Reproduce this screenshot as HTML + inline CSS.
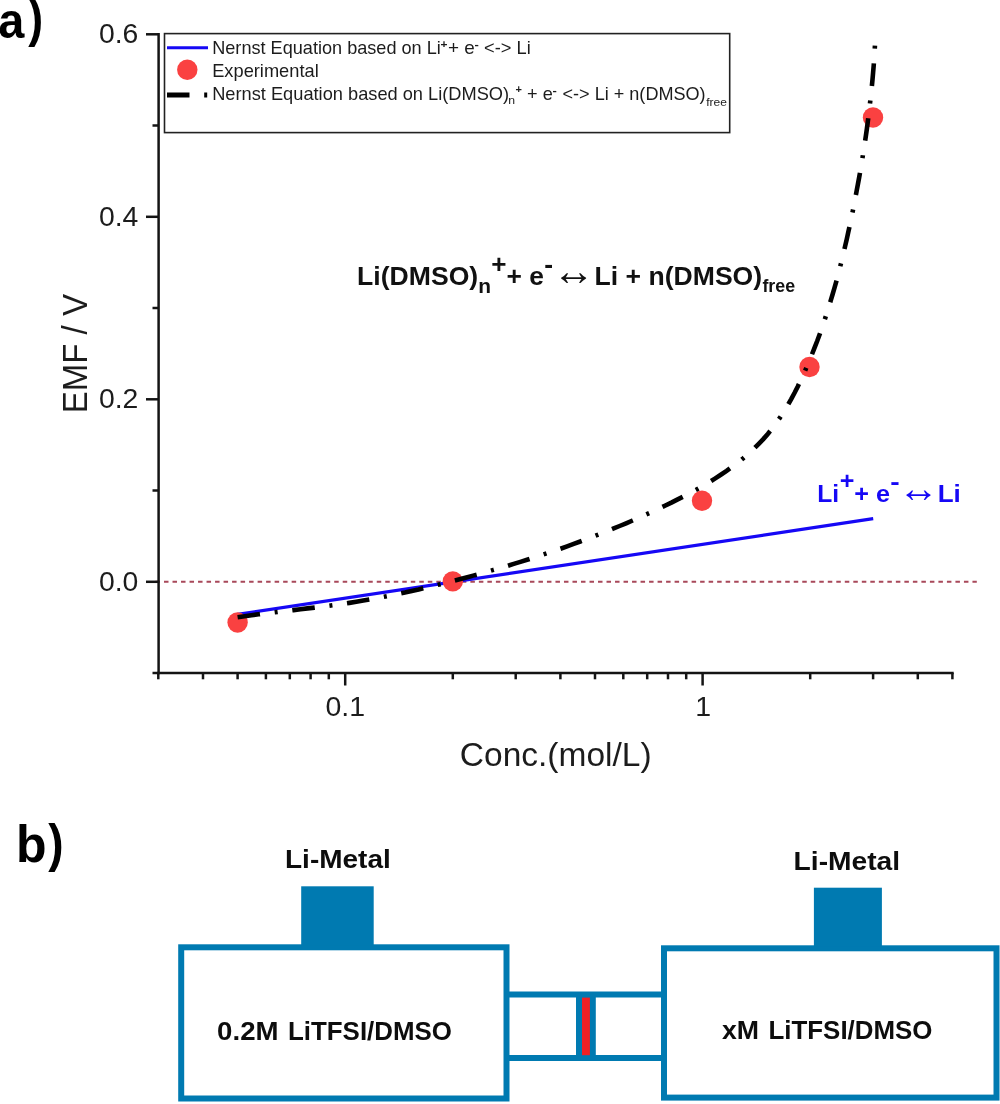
<!DOCTYPE html>
<html lang="en"><head><meta charset="utf-8"><title>EMF vs concentration</title>
<style>
html,body{margin:0;padding:0;background:#fff;}
body{width:1000px;height:1104px;overflow:hidden;position:relative;font-family:"Liberation Sans",sans-serif;}
svg{position:absolute;left:0;top:0;display:block;}
text{font-family:"Liberation Sans",sans-serif;}
.b{font-weight:bold;}
</style></head><body>
<svg width="1000" height="1104" viewBox="0 0 1000 1104">
<rect x="0" y="0" width="1000" height="1104" fill="#ffffff"/>
<line x1="155.49" y1="581.8" x2="976.8" y2="581.8" stroke="#a8485a" stroke-width="2" stroke-dasharray="4.5 4.01"/>
<g stroke="#141414" stroke-width="2.5" fill="none" stroke-linecap="butt">
<line x1="158.6" y1="33.05" x2="158.6" y2="674.25"/>
<line x1="157.35" y1="673.0" x2="953.7" y2="673.0"/>
<line x1="146" y1="34.3" x2="158.6" y2="34.3"/>
<line x1="152.5" y1="125.5" x2="158.6" y2="125.5"/>
<line x1="146" y1="216.8" x2="158.6" y2="216.8"/>
<line x1="152.5" y1="308.0" x2="158.6" y2="308.0"/>
<line x1="146" y1="399.3" x2="158.6" y2="399.3"/>
<line x1="152.5" y1="490.5" x2="158.6" y2="490.5"/>
<line x1="146" y1="581.8" x2="158.6" y2="581.8"/>
<line x1="152.5" y1="673.0" x2="158.6" y2="673.0"/>
<line x1="158.3" y1="673.0" x2="158.3" y2="679.3"/>
<line x1="203.0" y1="673.0" x2="203.0" y2="679.3"/>
<line x1="237.6" y1="673.0" x2="237.6" y2="679.3"/>
<line x1="265.9" y1="673.0" x2="265.9" y2="679.3"/>
<line x1="289.8" y1="673.0" x2="289.8" y2="679.3"/>
<line x1="310.6" y1="673.0" x2="310.6" y2="679.3"/>
<line x1="328.8" y1="673.0" x2="328.8" y2="679.3"/>
<line x1="345.2" y1="673.0" x2="345.2" y2="685.5"/>
<line x1="452.8" y1="673.0" x2="452.8" y2="679.3"/>
<line x1="515.7" y1="673.0" x2="515.7" y2="679.3"/>
<line x1="560.4" y1="673.0" x2="560.4" y2="679.3"/>
<line x1="595.0" y1="673.0" x2="595.0" y2="679.3"/>
<line x1="623.3" y1="673.0" x2="623.3" y2="679.3"/>
<line x1="647.2" y1="673.0" x2="647.2" y2="679.3"/>
<line x1="668.0" y1="673.0" x2="668.0" y2="679.3"/>
<line x1="686.2" y1="673.0" x2="686.2" y2="679.3"/>
<line x1="702.6" y1="673.0" x2="702.6" y2="685.5"/>
<line x1="810.2" y1="673.0" x2="810.2" y2="679.3"/>
<line x1="873.1" y1="673.0" x2="873.1" y2="679.3"/>
<line x1="917.8" y1="673.0" x2="917.8" y2="679.3"/>
<line x1="952.4" y1="673.0" x2="952.4" y2="679.3"/>
</g>
<text x="98.89" y="43.1" font-size="28.5" fill="#1c1c1c" textLength="39.42" lengthAdjust="spacingAndGlyphs">0.6</text>
<text x="98.89" y="225.6" font-size="28.5" fill="#1c1c1c" textLength="39.42" lengthAdjust="spacingAndGlyphs">0.4</text>
<text x="98.89" y="408.1" font-size="28.5" fill="#1c1c1c" textLength="39.42" lengthAdjust="spacingAndGlyphs">0.2</text>
<text x="98.89" y="590.6" font-size="28.5" fill="#1c1c1c" textLength="39.42" lengthAdjust="spacingAndGlyphs">0.0</text>
<text x="325.4" y="716.2" font-size="28.5" fill="#1c1c1c">0.1</text>
<text x="695.3" y="716.2" font-size="28.5" fill="#1c1c1c">1</text>
<text x="459.80" y="766.20" font-size="33.5" fill="#1c1c1c" textLength="191.78" lengthAdjust="spacingAndGlyphs">Conc.(mol/L)</text>
<text x="-2.71" y="0.00" font-size="34.5" fill="#1c1c1c" textLength="119.25" lengthAdjust="spacingAndGlyphs" transform="translate(86.9,410.6) rotate(-90)">EMF / V</text>
<line x1="237.6" y1="614.4" x2="873.2" y2="518.6" stroke="#1608f5" stroke-width="3.3"/>
<circle cx="237.6" cy="622.5" r="10.2" fill="#fa4141"/>
<circle cx="452.8" cy="581.4" r="10.2" fill="#fa4141"/>
<circle cx="702" cy="500.7" r="10.2" fill="#fa4141"/>
<circle cx="809.5" cy="367" r="10.2" fill="#fa4141"/>
<circle cx="873" cy="117.5" r="10.2" fill="#fa4141"/>
<path d="M237.6,617.2 L244.6,616.2 L251.5,615.2 L258.5,614.3 L265.5,613.4 L272.5,612.6 L279.5,611.7 L286.5,610.9 L293.5,610.1 L300.5,609.3 L307.5,608.4 L314.5,607.6 L321.5,606.7 L328.4,605.8 L335.4,604.9 L342.4,603.9 L349.4,602.9 L356.3,601.8 L363.3,600.6 L370.2,599.4 L377.2,598.2 L384.1,596.8 L391.0,595.5 L397.9,594.0 L404.8,592.6 L411.7,591.0 L418.6,589.5 L425.5,587.8 L432.3,586.2 L439.2,584.5 L446.0,582.8 L452.8,581.0 L459.6,579.3 L466.4,577.5 L473.2,575.6 L480.0,573.8 L486.8,571.9 L493.5,569.9 L500.3,568.0 L507.0,566.0 L513.7,563.9 L520.4,561.9 L527.1,559.8 L533.8,557.6 L540.5,555.4 L547.2,553.2 L553.8,551.0 L560.5,548.7 L567.1,546.3 L573.7,543.9 L580.3,541.5 L586.9,539.0 L593.5,536.5 L600.0,534.0 L606.6,531.4 L613.1,528.7 L619.6,526.0 L626.1,523.3 L632.6,520.5 L639.1,517.6 L645.6,514.7 L652.1,511.8 L658.5,508.8 L664.9,505.7 L671.4,502.6 L677.7,499.4 L684.1,496.2 L690.4,492.9 L696.6,489.5 L702.8,486.0 L708.9,482.4 L714.9,478.6 L720.8,474.8 L726.6,470.9 L732.3,466.8 L737.9,462.6 L743.3,458.2 L748.5,453.7 L753.6,449.0 L758.5,444.1 L763.3,439.1 L767.8,433.9 L772.2,428.5 L776.3,422.9 L780.3,417.1 L784.1,411.2 L787.7,405.2 L791.2,399.1 L794.6,392.8 L797.8,386.5 L800.8,380.1 L803.8,373.6 L806.7,367.1 L809.5,360.6 L812.1,354.0 L814.7,347.4 L817.3,340.8 L819.7,334.2 L822.1,327.6 L824.3,320.9 L826.5,314.2 L828.7,307.5 L830.7,300.7 L832.7,294.0 L834.7,287.2 L836.6,280.4 L838.4,273.6 L840.1,266.8 L841.9,260.0 L843.5,253.1 L845.1,246.3 L846.7,239.4 L848.2,232.6 L849.7,225.7 L851.2,218.8 L852.6,211.9 L854.0,205.0 L855.3,198.1 L856.6,191.1 L857.9,184.2 L859.2,177.3 L860.4,170.4 L861.6,163.4 L862.7,156.5 L863.8,149.5 L864.9,142.6 L865.9,135.6 L866.9,128.6 L867.8,121.7 L868.7,114.7 L869.5,107.7 L870.3,100.7 L871.1,93.7 L871.8,86.7 L872.5,79.6 L873.1,72.6 L873.7,65.6 L874.2,58.6 L874.6,51.5 L875.0,44.5" fill="none" stroke="#000" stroke-width="4.6" stroke-dasharray="22.6 14.8 3 14.75"/>
<rect x="164.5" y="33.6" width="565.2" height="99" fill="#fff" stroke="#222" stroke-width="1.6"/>
<line x1="167" y1="47.7" x2="208" y2="47.7" stroke="#1608f5" stroke-width="3"/>
<circle cx="187.3" cy="69.8" r="10.2" fill="#fa4141"/>
<line x1="167" y1="95" x2="208" y2="95" stroke="#000" stroke-width="4.8" stroke-dasharray="22.5 14.7 3 14.7"/>
<text><tspan x="212.21" y="53.90" font-size="17.8" fill="#1c1c1c" textLength="228.61" lengthAdjust="spacingAndGlyphs">Nernst Equation based on Li</tspan><tspan x="440.50" y="48.22" font-size="11.8" font-weight="bold" fill="#1c1c1c" textLength="6.99" lengthAdjust="spacingAndGlyphs">+</tspan><tspan x="448.08" y="53.90" font-size="17.8" fill="#1c1c1c" textLength="26.76" lengthAdjust="spacingAndGlyphs">+ e</tspan><tspan x="474.49" y="47.96" font-size="11.8" font-weight="bold" fill="#1c1c1c" textLength="4.33" lengthAdjust="spacingAndGlyphs">-</tspan><tspan x="479.02" y="53.90" font-size="17.8" fill="#1c1c1c" textLength="51.81" lengthAdjust="spacingAndGlyphs"> &lt;-&gt; Li</tspan></text>
<text x="212.20" y="76.90" font-size="17.8" fill="#1c1c1c" textLength="106.52" lengthAdjust="spacingAndGlyphs">Experimental</text>
<text><tspan x="212.20" y="100.20" font-size="17.8" fill="#1c1c1c" textLength="296.93" lengthAdjust="spacingAndGlyphs">Nernst Equation based on Li(DMSO)</tspan><tspan x="508.39" y="104.40" font-size="11.8" fill="#1c1c1c" textLength="6.81" lengthAdjust="spacingAndGlyphs">n</tspan><tspan x="515.54" y="93.42" font-size="11.8" font-weight="bold" fill="#1c1c1c" textLength="6.41" lengthAdjust="spacingAndGlyphs">+</tspan><tspan x="522.08" y="100.20" font-size="17.8" fill="#1c1c1c" textLength="30.72" lengthAdjust="spacingAndGlyphs"> + e</tspan><tspan x="552.49" y="93.76" font-size="11.8" font-weight="bold" fill="#1c1c1c" textLength="4.33" lengthAdjust="spacingAndGlyphs">-</tspan><tspan x="557.49" y="100.20" font-size="17.8" fill="#1c1c1c" textLength="148.13" lengthAdjust="spacingAndGlyphs"> &lt;-&gt; Li + n(DMSO)</tspan><tspan x="706.23" y="105.50" font-size="11.8" fill="#1c1c1c" textLength="20.70" lengthAdjust="spacingAndGlyphs">free</tspan></text>
<text><tspan x="357.12" y="285.00" font-size="26" font-weight="bold" fill="#111" textLength="121.10" lengthAdjust="spacingAndGlyphs">Li(DMSO)</tspan><tspan x="478.32" y="293.00" font-size="20.8" font-weight="bold" fill="#111" textLength="12.78" lengthAdjust="spacingAndGlyphs">n</tspan><tspan x="491.20" y="272.54" font-size="26" font-weight="bold" fill="#111" textLength="15.26" lengthAdjust="spacingAndGlyphs">+</tspan><tspan x="506.59" y="285.00" font-size="26" font-weight="bold" fill="#111" textLength="37.41" lengthAdjust="spacingAndGlyphs">+ e</tspan><tspan x="544.27" y="272.94" font-size="26" font-weight="bold" fill="#111" textLength="8.79" lengthAdjust="spacingAndGlyphs">-</tspan><tspan x="540.64" y="285.47" font-size="42" fill="#111" textLength="65.72" lengthAdjust="spacingAndGlyphs"> ↔ </tspan><tspan x="594.62" y="285.00" font-size="26" font-weight="bold" fill="#111" textLength="167.50" lengthAdjust="spacingAndGlyphs">Li + n(DMSO)</tspan><tspan x="762.40" y="291.80" font-size="17.7" font-weight="bold" fill="#111" textLength="32.71" lengthAdjust="spacingAndGlyphs">free</tspan></text>
<text><tspan x="817.25" y="502.00" font-size="24.5" font-weight="bold" fill="#1608f5" textLength="21.89" lengthAdjust="spacingAndGlyphs">Li</tspan><tspan x="839.74" y="489.35" font-size="24.5" font-weight="bold" fill="#1608f5" textLength="14.67" lengthAdjust="spacingAndGlyphs">+</tspan><tspan x="854.34" y="502.00" font-size="24.5" font-weight="bold" fill="#1608f5" textLength="35.72" lengthAdjust="spacingAndGlyphs">+ e</tspan><tspan x="890.39" y="490.35" font-size="24.5" font-weight="bold" fill="#1608f5" textLength="9.44" lengthAdjust="spacingAndGlyphs">-</tspan><tspan x="886.79" y="502.01" font-size="41" fill="#1608f5" textLength="63.61" lengthAdjust="spacingAndGlyphs"> ↔ </tspan><tspan x="937.76" y="502.00" font-size="24.5" font-weight="bold" fill="#1608f5" textLength="23.08" lengthAdjust="spacingAndGlyphs">Li</tspan></text>
<text><tspan x="-1.87" y="37.90" font-size="50" font-weight="bold" fill="#000" textLength="26.08" lengthAdjust="spacingAndGlyphs">a</tspan><tspan x="28.16" y="36.00" font-size="52" font-weight="bold" fill="#000" textLength="14.87" lengthAdjust="spacingAndGlyphs">)</tspan></text>
<text><tspan x="16.00" y="862.30" font-size="52" font-weight="bold" fill="#000" textLength="30.55" lengthAdjust="spacingAndGlyphs">b</tspan><tspan x="48.26" y="860.90" font-size="52" font-weight="bold" fill="#000" textLength="15.34" lengthAdjust="spacingAndGlyphs">)</tspan></text>
<g fill="none" stroke="#007ab1" stroke-width="6">
<rect x="181.2" y="947.3" width="325.3" height="151.2"/>
<rect x="664" y="948.3" width="332.5" height="149.3"/>
<line x1="509" y1="994.5" x2="661.5" y2="994.5"/>
<line x1="509" y1="1058" x2="661.5" y2="1058"/>
</g>
<rect x="301.2" y="886.3" width="72.5" height="59" fill="#007ab1"/>
<rect x="813.9" y="887.7" width="68" height="59" fill="#007ab1"/>
<rect x="576" y="994" width="19.8" height="64" fill="#007ab1"/>
<rect x="582" y="997.6" width="7.9" height="57.6" fill="#f02024"/>
<text x="285.03" y="868.20" font-size="25.5" font-weight="bold" fill="#0d0d0d" textLength="105.75" lengthAdjust="spacingAndGlyphs">Li-Metal</text>
<text x="793.61" y="870.40" font-size="25.5" font-weight="bold" fill="#0d0d0d" textLength="106.48" lengthAdjust="spacingAndGlyphs">Li-Metal</text>
<text><tspan x="217.11" y="1040.30" font-size="25.4" font-weight="bold" fill="#0d0d0d" textLength="69.12" lengthAdjust="spacingAndGlyphs">0.2M </tspan><tspan x="287.97" y="1040.30" font-size="25.4" font-weight="bold" fill="#0d0d0d" textLength="164.02" lengthAdjust="spacingAndGlyphs">LiTFSI/DMSO</tspan></text>
<text><tspan x="721.92" y="1039.20" font-size="25.4" font-weight="bold" fill="#0d0d0d" textLength="44.48" lengthAdjust="spacingAndGlyphs">xM </tspan><tspan x="768.47" y="1039.20" font-size="25.4" font-weight="bold" fill="#0d0d0d" textLength="164.02" lengthAdjust="spacingAndGlyphs">LiTFSI/DMSO</tspan></text>
</svg></body></html>
